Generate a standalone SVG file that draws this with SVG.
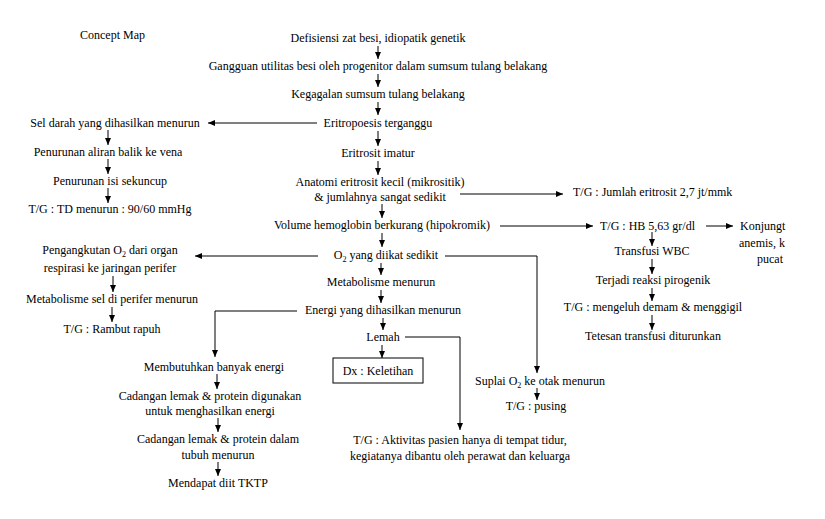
<svg xmlns="http://www.w3.org/2000/svg" width="825" height="519" viewBox="0 0 825 519">
<defs>
<marker id="a" markerWidth="8" markerHeight="8" refX="7" refY="4" orient="auto" markerUnits="userSpaceOnUse"><path d="M0,1 L7,4 L0,7 Z" fill="#000"/></marker>
<style>
text{font-family:"Liberation Serif",serif;font-size:12px;fill:#000;text-anchor:middle}
.l{text-anchor:start}
.c path,.c line{stroke:#000;stroke-width:1;fill:none;marker-end:url(#a)}
</style>
</defs>
<rect width="825" height="519" fill="#fff"/>
<text class="l" x="80" y="39">Concept Map</text>
<g id="n1"><text x="378" y="42">Defisiensi zat besi, idiopatik genetik</text></g>
<g id="n2"><text x="378" y="70">Gangguan utilitas besi oleh progenitor dalam sumsum tulang belakang</text></g>
<g id="n3"><text x="378" y="98">Kegagalan sumsum tulang belakang</text></g>
<g id="n4"><text x="378" y="127">Eritropoesis terganggu</text></g>
<g id="n5"><text x="378" y="157">Eritrosit imatur</text></g>
<g id="n6"><text x="380" y="186">Anatomi eritrosit kecil (mikrositik)</text><text x="380" y="201">&amp; jumlahnya sangat sedikit</text></g>
<g id="n7"><text x="382" y="229">Volume hemoglobin berkurang (hipokromik)</text></g>
<g id="n8"><text x="386" y="259">O<tspan font-size="8" dy="3">2</tspan><tspan dy="-3"> yang diikat sedikit</tspan></text></g>
<g id="n9"><text x="381" y="286">Metabolisme menurun</text></g>
<g id="n10"><text x="383" y="314">Energi yang dihasilkan menurun</text></g>
<g id="n11"><text x="383" y="341">Lemah</text></g>
<g id="n12"><rect x="333" y="358" width="90" height="25" fill="none" stroke="#000"/><text x="378" y="375">Dx : Keletihan</text></g>
<g id="n13"><text x="115" y="127">Sel darah yang dihasilkan menurun</text></g>
<g id="n14"><text x="108" y="156">Penurunan aliran balik ke vena</text></g>
<g id="n15"><text x="110" y="185">Penurunan isi sekuncup</text></g>
<g id="n16"><text x="110" y="213">T/G : TD menurun : 90/60 mmHg</text></g>
<g id="n17"><text x="110" y="254">Pengangkutan O<tspan font-size="8" dy="3">2</tspan><tspan dy="-3"> dari organ</tspan></text><text x="110" y="272">respirasi ke jaringan perifer</text></g>
<g id="n18"><text x="112" y="303">Metabolisme sel di perifer menurun</text></g>
<g id="n19"><text x="112" y="333">T/G : Rambut rapuh</text></g>
<g id="n20"><text x="214" y="371">Membutuhkan banyak energi</text></g>
<g id="n21"><text x="210" y="400">Cadangan lemak &amp; protein digunakan</text><text x="210" y="415">untuk menghasilkan energi</text></g>
<g id="n22"><text x="218" y="443">Cadangan lemak &amp; protein dalam</text><text x="218" y="459">tubuh menurun</text></g>
<g id="n23"><text x="218" y="487">Mendapat diit TKTP</text></g>
<g id="n24"><text x="460" y="444">T/G : Aktivitas pasien hanya di tempat tidur,</text><text x="460" y="460">kegiatanya dibantu oleh perawat dan keluarga</text></g>
<g id="n25"><text x="540" y="385">Suplai O<tspan font-size="8" dy="3">2</tspan><tspan dy="-3"> ke otak menurun</tspan></text></g>
<g id="n26"><text x="536" y="410">T/G : pusing</text></g>
<g id="n27"><text class="l" x="573" y="196">T/G : Jumlah eritrosit 2,7 jt/mmk</text></g>
<g id="n28"><text class="l" x="600" y="230">T/G : HB 5,63 gr/dl</text></g>
<g id="n29"><text class="l" x="740" y="230">Konjungt</text><text class="l" x="739" y="247">anemis, k</text><text class="l" x="757" y="263">pucat</text></g>
<g id="n30"><text x="652" y="255">Transfusi WBC</text></g>
<g id="n31"><text x="653" y="284">Terjadi reaksi pirogenik</text></g>
<g id="n32"><text x="653" y="311">T/G : mengeluh demam &amp; menggigil</text></g>
<g id="n33"><text x="653" y="340">Tetesan transfusi diturunkan</text></g>
<g class="c" id="connectors">
<line x1="378" y1="46" x2="378" y2="59"/>
<line x1="378" y1="74" x2="378" y2="87"/>
<line x1="378" y1="102" x2="378" y2="115"/>
<line x1="378" y1="131" x2="378" y2="146"/>
<line x1="378" y1="161" x2="378" y2="175"/>
<line x1="382" y1="204" x2="382" y2="218"/>
<line x1="382" y1="233" x2="382" y2="247"/>
<line x1="381" y1="263" x2="381" y2="275"/>
<line x1="381" y1="290" x2="381" y2="303"/>
<line x1="383" y1="318" x2="383" y2="330"/>
<line x1="382" y1="345" x2="382" y2="358"/>
<line x1="317" y1="123" x2="208" y2="123"/>
<line x1="108" y1="130" x2="108" y2="145"/>
<line x1="108" y1="159" x2="108" y2="174"/>
<line x1="108" y1="188" x2="108" y2="203"/>
<line x1="318" y1="256" x2="195" y2="256"/>
<line x1="113" y1="276" x2="113" y2="292"/>
<line x1="112" y1="307" x2="112" y2="322"/>
<path d="M297,311 H215 V357"/>
<line x1="217" y1="374" x2="217" y2="389"/>
<line x1="218" y1="418" x2="218" y2="432"/>
<line x1="218" y1="462" x2="218" y2="476"/>
<path d="M405,337 H460 V430"/>
<path d="M445,256 H537 V373"/>
<line x1="537" y1="388" x2="537" y2="400"/>
<line x1="460" y1="194" x2="563" y2="194"/>
<line x1="500" y1="226" x2="593" y2="226"/>
<line x1="706" y1="226" x2="733" y2="226"/>
<line x1="652" y1="232" x2="652" y2="246"/>
<line x1="652" y1="259" x2="652" y2="274"/>
<line x1="652" y1="288" x2="652" y2="301"/>
<line x1="652" y1="315" x2="652" y2="330"/>
</g>
</svg>
